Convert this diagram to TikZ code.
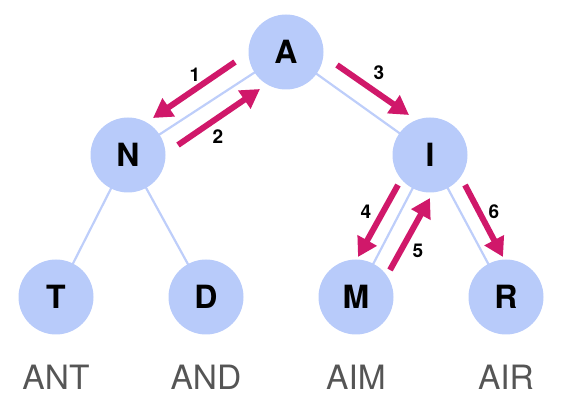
\documentclass[tikz,border=0pt]{standalone}
\usepackage{fontspec}
\setmainfont{TeX Gyre Heros}
\usetikzlibrary{arrows.meta}
\definecolor{nodeblue}{RGB}{184,203,250}
\definecolor{edgeblue}{RGB}{190,206,250}
\definecolor{arrowmag}{RGB}{208,24,106}
\definecolor{labelgray}{RGB}{85,85,85}
\tikzset{
  treenode/.style={circle,fill=nodeblue,minimum size=75pt,inner sep=0pt,
    font=\fontsize{32}{32}\selectfont\bfseries},
  treeedge/.style={draw=edgeblue,line width=2.2pt},
  walk/.style={draw=arrowmag,line width=6pt,-{Triangle[length=19pt,width=21pt]}},
  stepnum/.style={font=\fontsize{19}{19}\selectfont\bfseries},
  word/.style={font=\fontsize{33.5}{33.5}\selectfont,text=labelgray}
}
\begin{document}
\begin{tikzpicture}[x=1pt,y=-1pt]
\useasboundingbox (0,0) rectangle (568,403);
\coordinate (pA) at (286,52);
\coordinate (pN) at (128,155);
\coordinate (pI) at (430,155);
\coordinate (pT) at (56,297);
\coordinate (pD) at (206,297);
\coordinate (pM) at (356,297);
\coordinate (pR) at (506,297);
\draw[treeedge] (pA) -- (pN);
\draw[treeedge] (pA) -- (pI);
\draw[treeedge] (pN) -- (pT);
\draw[treeedge] (pN) -- (pD);
\draw[treeedge] (pI) -- (pM);
\draw[treeedge] (pI) -- (pR);
\node[treenode] (A) at (pA) {A};
\node[treenode] (N) at (pN) {N};
\node[treenode] (I) at (pI) {I};
\node[treenode] (T) at (pT) {T};
\node[treenode] (D) at (pD) {D};
\node[treenode] (M) at (pM) {M};
\node[treenode] (R) at (pR) {R};
% walk arrows
\coordinate (a1s) at (235,62);  \coordinate (a1e) at (153,118);
\coordinate (a2s) at (178,145); \coordinate (a2e) at (260,89);
\coordinate (a3s) at (337,65);  \coordinate (a3e) at (409,115);
\coordinate (a4s) at (398,185); \coordinate (a4e) at (358,257);
\coordinate (a5s) at (390,270); \coordinate (a5e) at (430,198);
\coordinate (a6s) at (465,185); \coordinate (a6e) at (503,257);
\draw[walk] (a1s) -- (a1e);
\draw[walk] (a2s) -- (a2e);
\draw[walk] (a3s) -- (a3e);
\draw[walk] (a4s) -- (a4e);
\draw[walk] (a5s) -- (a5e);
\draw[walk] (a6s) -- (a6e);
\node[stepnum] (n1) at (195,75) {1};
\node[stepnum] (n2) at (218,137) {2};
\node[stepnum] (n3) at (379,73) {3};
\node[stepnum] (n4) at (366,212) {4};
\node[stepnum] (n5) at (418,251) {5};
\node[stepnum] (n6) at (494,212) {6};
\node[word] (wT) at (56,377) {ANT};
\node[word] (wD) at (206,377) {AND};
\node[word] (wM) at (356,377) {AIM};
\node[word] (wR) at (506,377) {AIR};
\end{tikzpicture}
\end{document}
